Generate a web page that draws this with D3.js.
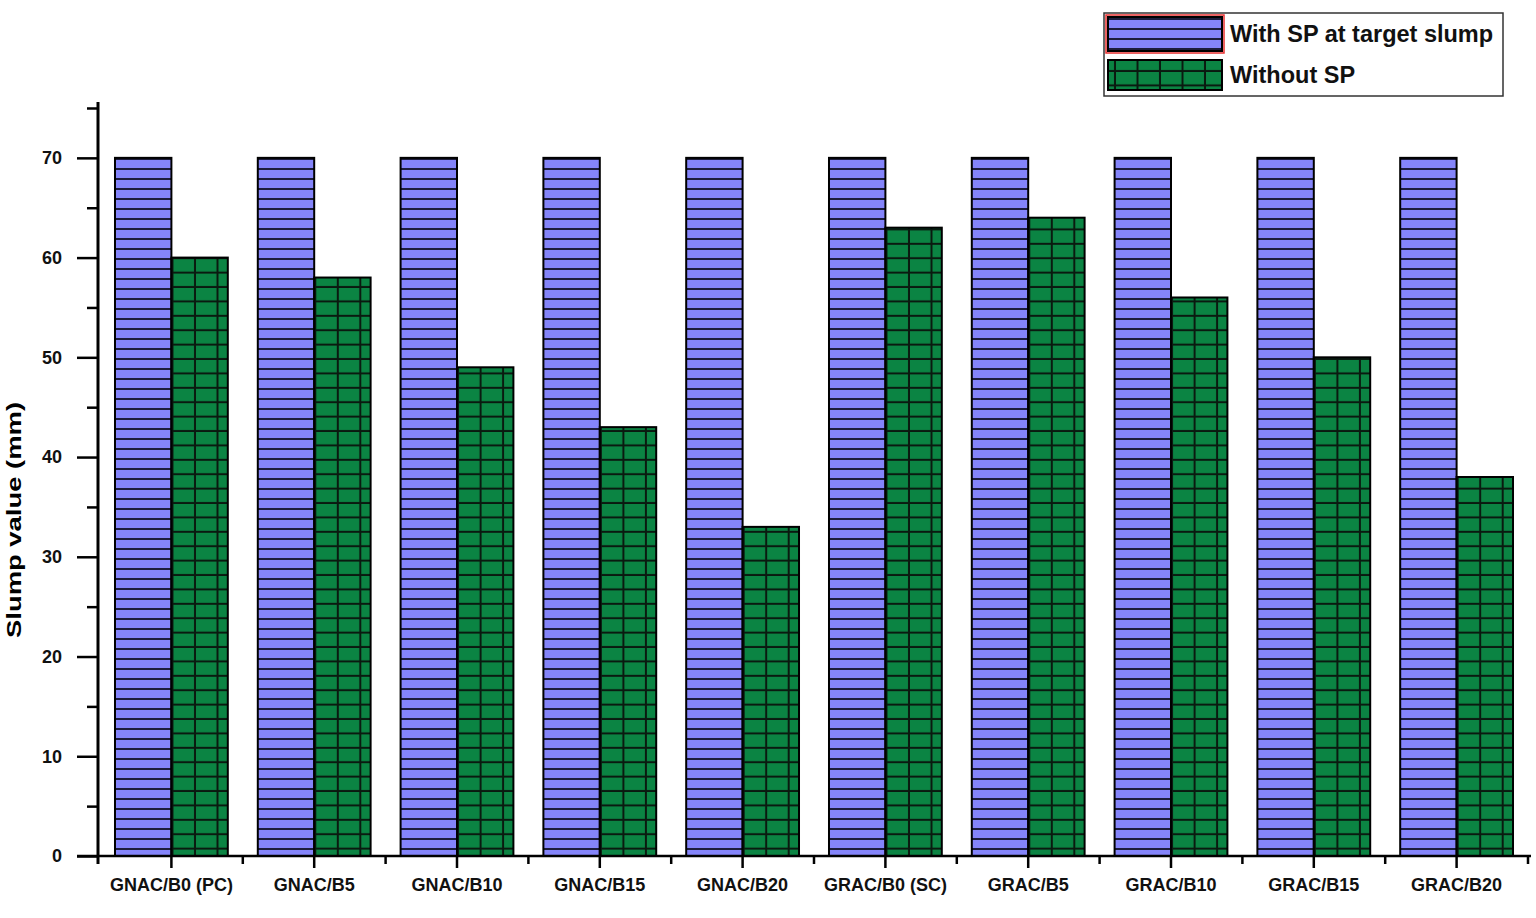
<!DOCTYPE html>
<html>
<head>
<meta charset="utf-8">
<script src="https://cdn.jsdelivr.net/npm/d3@7"></script>
<style>
  body { margin: 0; background: #fff; }
  svg { display: block; font-family: "Liberation Sans", Arial, sans-serif; }
</style>
</head>
<body>
<svg id="main" width="1536" height="918"></svg>
<script>
// chart data
const categories = ["GNAC/B0 (PC)", "GNAC/B5", "GNAC/B10", "GNAC/B15", "GNAC/B20",
    "GRAC/B0 (SC)", "GRAC/B5", "GRAC/B10", "GRAC/B15", "GRAC/B20"];
const withSP = [70, 70, 70, 70, 70, 70, 70, 70, 70, 70];
const withoutSP = [60, 58, 49, 43, 33, 63, 64, 56, 50, 38];
const seriesNames = ["With SP at target slump", "Without SP"];
const yTicks = [0, 10, 20, 30, 40, 50, 60, 70];
const yMinorTicks = [5, 15, 25, 35, 45, 55, 65, 75];

const render = () => {
    const svg = d3.select("#main");

    const xScale = d3.scaleBand(categories, [100, 1528])
        .paddingInner(0.21)
        .paddingOuter(0.105);
    const sub = d3.scaleBand([0, 1], [0, xScale.bandwidth()]);
    const yScale = d3.scaleLinear([0, 75.6], [856, 102]);

    // hatch patterns
    const defs = svg.append("defs");
    const pBlue = defs.append("pattern")
        .attr("id", "hatchBlue")
        .attr("patternUnits", "userSpaceOnUse")
        .attr("width", 10).attr("height", 10)
        .attr("y", 158);
    pBlue.append("rect").attr("width", 10).attr("height", 10).attr("fill", "#8484fa");
    pBlue.append("rect").attr("y", 0).attr("width", 10).attr("height", 2).attr("fill", "#1c1c3c");

    const pGreen = defs.append("pattern")
        .attr("id", "gridGreen")
        .attr("patternUnits", "userSpaceOnUse")
        .attr("width", 22.5).attr("height", 14.4)
        .attr("x", 171).attr("y", 0);
    pGreen.append("rect").attr("width", 22.5).attr("height", 14.4).attr("fill", "#0b8443");
    pGreen.append("rect").attr("x", 20.5).attr("width", 2.2).attr("height", 14.4).attr("fill", "#0a1a10");
    pGreen.append("rect").attr("y", 12.4).attr("width", 22.5).attr("height", 2.2).attr("fill", "#0a1a10");

    const fills = ["url(#hatchBlue)", "url(#gridGreen)"];
    const series = [withSP, withoutSP];

    // bars
    const groups = svg.append("g")
        .selectAll("g")
        .data(categories)
        .join("g")
        .attr("transform", d => `translate(${xScale(d)},0)`);

    groups.selectAll("rect")
        .data((d, i) => series.map((s, k) => ({k: k, v: s[i]})))
        .join("rect")
        .attr("x", d => sub(d.k))
        .attr("y", d => yScale(d.v))
        .attr("width", sub.bandwidth())
        .attr("height", d => yScale(0) - yScale(d.v))
        .attr("fill", d => fills[d.k])
        .attr("stroke", "#000")
        .attr("stroke-width", 2);

    // y axis
    const yAxis = svg.append("g")
        .attr("transform", "translate(98,0)")
        .call(d3.axisLeft(yScale).tickValues(yTicks).tickSize(21).tickSizeOuter(0).tickPadding(15));
    yAxis.select(".domain").remove();
    yAxis.selectAll("line").attr("stroke", "#000").attr("stroke-width", 2.5);
    yAxis.selectAll("text")
        .attr("font-size", 18).attr("font-weight", "bold").attr("fill", "#111");

    const yMinor = svg.append("g")
        .attr("transform", "translate(98,0)")
        .call(d3.axisLeft(yScale).tickValues(yMinorTicks).tickSize(11).tickFormat(""));
    yMinor.select(".domain").remove();
    yMinor.selectAll("line").attr("stroke", "#000").attr("stroke-width", 2.5);

    svg.append("line")
        .attr("x1", 98).attr("x2", 98)
        .attr("y1", 102).attr("y2", 864)
        .attr("stroke", "#000").attr("stroke-width", 3);

    // x axis
    const xAxis = svg.append("g")
        .attr("transform", "translate(0,856)")
        .call(d3.axisBottom(xScale).tickSize(12).tickSizeOuter(0).tickPadding(10));
    xAxis.select(".domain").remove();
    xAxis.selectAll("line").attr("stroke", "#000").attr("stroke-width", 2.5);
    xAxis.selectAll("text")
        .attr("font-size", 18).attr("font-weight", "bold").attr("fill", "#111");

    const bounds = categories.map(c => xScale(c) + xScale.bandwidth() + xScale.step() * 0.105);
    svg.append("g")
        .selectAll("line")
        .data(bounds)
        .join("line")
        .attr("x1", d => d).attr("x2", d => d)
        .attr("y1", 856).attr("y2", 864)
        .attr("stroke", "#000").attr("stroke-width", 2.5);

    svg.append("line")
        .attr("x1", 77).attr("x2", 1531)
        .attr("y1", 856).attr("y2", 856)
        .attr("stroke", "#000").attr("stroke-width", 2.5);

    // y label
    svg.append("text")
        .attr("transform", "translate(21,520) rotate(-90)")
        .attr("text-anchor", "middle")
        .attr("font-size", 21)
        .attr("font-weight", "bold")
        .attr("textLength", 236)
        .attr("lengthAdjust", "spacingAndGlyphs")
        .text("Slump value (mm)");

    // legend
    const legend = svg.append("g");
    legend.append("rect")
        .attr("x", 1104).attr("y", 13)
        .attr("width", 399).attr("height", 83)
        .attr("fill", "#fff").attr("stroke", "#333").attr("stroke-width", 1.5);
    legend.append("rect")
        .attr("x", 1106).attr("y", 15)
        .attr("width", 118).attr("height", 38)
        .attr("fill", "none").attr("stroke", "#e83030").attr("stroke-width", 1.5);
    const sw = [{y: 17, h: 34}, {y: 60, h: 30}];
    seriesNames.forEach((name, k) => {
        legend.append("rect")
            .attr("x", 1108).attr("y", sw[k].y)
            .attr("width", 114).attr("height", sw[k].h)
            .attr("fill", fills[k])
            .attr("stroke", "#000").attr("stroke-width", 2);
        legend.append("text")
            .attr("x", 1230).attr("y", sw[k].y + sw[k].h / 2 + 8)
            .attr("font-size", 23.5)
            .attr("font-weight", "bold")
            .attr("fill", "#111")
            .text(name);
    });
};

render();
</script>
</body>
</html>
